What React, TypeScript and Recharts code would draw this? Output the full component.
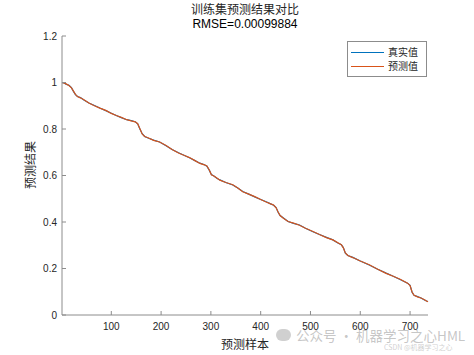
import React from 'react';
import { LineChart, Line, XAxis, YAxis, Legend } from 'recharts';

// sample index (x) and values
const samples = [
  1, 5, 10, 15, 20, 24, 28, 32, 38, 45, 55, 65, 77, 90, 100, 110, 120, 131, 140, 148,
  153, 157, 162, 167, 175, 185, 197, 210, 222, 235, 247, 257, 268, 278, 287, 292, 297, 301, 306, 312,
  318, 330, 344, 354, 364, 376, 388, 400, 411, 420, 426, 431, 435, 439, 445, 455, 466, 478, 490, 505,
  518, 532, 545, 555, 562, 566, 570, 575, 585, 600, 618, 635, 652, 665, 680, 695, 700, 704, 708, 715,
  722, 728, 733, 736,
];

const trueVals = [
  1.0, 0.998, 0.992, 0.988, 0.978, 0.962, 0.948, 0.94, 0.935, 0.925, 0.912, 0.902, 0.89, 0.878, 0.868, 0.858, 0.849, 0.84, 0.836, 0.831,
  0.822, 0.802, 0.78, 0.768, 0.76, 0.752, 0.744, 0.728, 0.712, 0.698, 0.686, 0.676, 0.664, 0.653, 0.646, 0.64, 0.622, 0.604, 0.598, 0.588,
  0.581, 0.57, 0.559, 0.546, 0.531, 0.52, 0.508, 0.497, 0.487, 0.478, 0.472, 0.462, 0.442, 0.428, 0.418, 0.402, 0.394, 0.387, 0.373, 0.358,
  0.346, 0.334, 0.323, 0.31, 0.302, 0.29, 0.266, 0.256, 0.248, 0.232, 0.215, 0.197, 0.18, 0.168, 0.153, 0.137, 0.128, 0.098, 0.085, 0.079,
  0.073, 0.066, 0.06, 0.058,
];

const predVals = [
  0.999, 0.998, 0.993, 0.987, 0.977, 0.963, 0.949, 0.94, 0.934, 0.926, 0.912, 0.901, 0.89, 0.879, 0.867, 0.858, 0.85, 0.84, 0.835, 0.831,
  0.823, 0.803, 0.779, 0.768, 0.761, 0.751, 0.744, 0.729, 0.712, 0.697, 0.686, 0.677, 0.664, 0.652, 0.646, 0.641, 0.623, 0.603, 0.598, 0.589,
  0.58, 0.57, 0.56, 0.546, 0.53, 0.52, 0.509, 0.497, 0.486, 0.478, 0.473, 0.461, 0.443, 0.428, 0.417, 0.402, 0.395, 0.386, 0.373, 0.359,
  0.346, 0.333, 0.323, 0.311, 0.302, 0.289, 0.267, 0.256, 0.247, 0.232, 0.216, 0.197, 0.179, 0.168, 0.154, 0.137, 0.127, 0.099, 0.085, 0.078,
  0.073, 0.067, 0.06, 0.057,
];

const xTicks = [100, 200, 300, 400, 500, 600, 700];
const yTicks = [0, 0.2, 0.4, 0.6, 0.8, 1, 1.2];

const data = samples.map((s, i) => ({ x: s, real: trueVals[i], pred: predVals[i] }));

const BLUE = '#0072BD';
const ORANGE = '#D95319';
const AXIS = '#8c8c8c';
const TEXT = '#262626';
const CJK = '"Noto Sans CJK SC", "Noto Sans", sans-serif';
const LATIN = '"Liberation Sans", Arial, sans-serif';

const Empty = () => <g />;

const LegendBox = () => (
  <div
    style={{
      border: `1px solid ${AXIS}`,
      background: '#fff',
      padding: '3px 8px 3px 3px',
      fontFamily: CJK,
      fontSize: 10,
      color: TEXT,
      lineHeight: '14px',
    }}
  >
    {[
      { name: '真实值', color: BLUE },
      { name: '预测值', color: ORANGE },
    ].map((it) => (
      <div key={it.name} style={{ display: 'flex', alignItems: 'center' }}>
        <span style={{ display: 'inline-block', width: 33, height: 0, borderTop: `1.5px solid ${it.color}`, marginRight: 4 }} />
        <span>{it.name}</span>
      </div>
    ))}
  </div>
);

export default function App() {
  return (
    <div style={{ position: 'absolute', left: 0, top: 0, width: 474, height: 355, background: '#fff', overflow: 'hidden' }}>
      <div style={{ position: 'absolute', left: 0, width: 490, top: 2, textAlign: 'center', fontFamily: CJK, fontSize: 12, color: TEXT, lineHeight: '14px' }}>
        训练集预测结果对比
      </div>
      <div style={{ position: 'absolute', left: 0, width: 490, top: 17, textAlign: 'center', fontFamily: LATIN, fontSize: 12, color: '#000', lineHeight: '14px' }}>
        RMSE=0.00099884
      </div>
      <LineChart width={474} height={355} data={data} margin={{ top: 36, right: 46, left: 0, bottom: 0 }}>
        <XAxis
          dataKey="x"
          type="number"
          domain={[1, 736]}
          ticks={xTicks}
          height={40}
          stroke={AXIS}
          tickSize={-4}
          tickMargin={12}
          tick={{ fill: TEXT, fontSize: 10, fontFamily: LATIN }}
        />
        <XAxis
          xAxisId="top"
          orientation="top"
          dataKey="x"
          type="number"
          domain={[1, 736]}
          ticks={xTicks}
          height={0}
          stroke={AXIS}
          tickSize={-4}
          tick={<Empty />}
        />
        <YAxis
          type="number"
          domain={[0, 1.2]}
          ticks={yTicks}
          width={62}
          stroke={AXIS}
          tickSize={-4}
          tickMargin={9}
          tick={{ fill: TEXT, fontSize: 10, fontFamily: LATIN }}
        />
        <YAxis
          yAxisId="right"
          orientation="right"
          type="number"
          domain={[0, 1.2]}
          ticks={yTicks}
          width={0}
          stroke={AXIS}
          tickSize={-4}
          tick={<Empty />}
        />
        <Legend
          content={<LegendBox />}
          layout="horizontal"
          verticalAlign="middle"
          align="center"
          wrapperStyle={{ position: 'absolute', top: 41, left: 347, width: 'auto', right: 'auto', bottom: 'auto' }}
        />
        <Line dataKey="real" name="真实值" stroke={BLUE} strokeWidth={1.2} dot={false} isAnimationActive={false} />
        <Line dataKey="pred" name="预测值" stroke={ORANGE} strokeWidth={1.2} dot={false} isAnimationActive={false} />
      </LineChart>
      <div style={{ position: 'absolute', left: 0, width: 490, top: 337, textAlign: 'center', fontFamily: CJK, fontSize: 12, color: TEXT, lineHeight: '14px' }}>
        预测样本
      </div>
      <div
        style={{
          position: 'absolute',
          left: 30,
          top: 165,
          transform: 'translate(-50%, -50%) rotate(-90deg)',
          fontFamily: CJK,
          fontSize: 12,
          color: TEXT,
          whiteSpace: 'nowrap',
          lineHeight: '14px',
        }}
      >
        预测结果
      </div>
      <div style={{ position: 'absolute', left: 276, top: 327, display: 'flex', alignItems: 'center', fontFamily: CJK, fontSize: 13.5, color: 'rgba(150,150,150,0.55)', whiteSpace: 'nowrap', lineHeight: '16px' }}>
        <span style={{ display: 'inline-block', width: 15, height: 12, borderRadius: 6, background: 'rgba(150,150,150,0.45)', marginRight: 5 }} />
        公众号 · 机器学习之心HML
      </div>
      <div style={{ position: 'absolute', left: 384, top: 343, fontFamily: CJK, fontSize: 7, color: 'rgba(160,160,160,0.5)', whiteSpace: 'nowrap', lineHeight: '9px' }}>
        CSDN @机器学习之心
      </div>
    </div>
  );
}
